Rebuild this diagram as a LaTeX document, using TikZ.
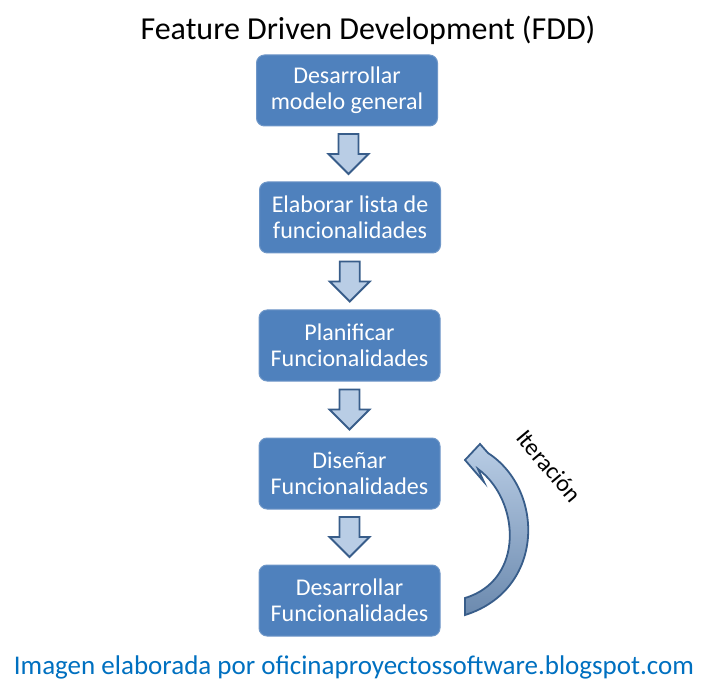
\documentclass[tikz,border=0pt]{standalone}
\usepackage{fontspec}
\setmainfont{Carlito}
\definecolor{boxfill}{HTML}{4F81BD}
\definecolor{boxline}{HTML}{6F97C8}
\definecolor{arrfill}{HTML}{B9CDE5}
\definecolor{arrline}{HTML}{385D8A}
\definecolor{foot}{HTML}{0070C0}
\begin{document}
\begin{tikzpicture}[x=1pt,y=-1pt,
  stepbox/.style={draw=boxline,line width=1pt,fill=boxfill,rounded corners=8pt,minimum width=181pt,minimum height=71pt,text=white,align=center,font=\fontsize{24}{26}\selectfont},
  downarr/.style={draw=arrline,line width=1.8pt,fill=arrfill,line join=miter}]
\useasboundingbox (0,0) rectangle (709,692);
\node at (368,30) {\fontsize{32}{36}\selectfont Feature Driven Development (FDD)};
\node[stepbox] (b1) at (347,90.5) {Desarrollar\\modelo general};
\node[stepbox] (b2) at (350,217.5) {Elaborar lista de\\funcionalidades};
\node[stepbox] (b3) at (349.5,345.5) {Planificar\\Funcionalidades};
\node[stepbox] (b4) at (349.5,473.5) {Diseñar\\Funcionalidades};
\node[stepbox] (b5) at (349.5,600.5) {Desarrollar\\Funcionalidades};
\foreach \a/\b in {b1/b2,b2/b3,b3/b4,b4/b5}{
  \path (\a.south) -- (\b.north) coordinate[pos=0.5] (m);
  \draw[downarr] ([shift={(-10,-20)}]m) -- ([shift={(10,-20)}]m) -- ([shift={(10,0)}]m) -- ([shift={(20,0)}]m) -- ([shift={(0,20)}]m) -- ([shift={(-20,0)}]m) -- ([shift={(-10,0)}]m) -- cycle;
}
\coordinate (tip) at (465,460);
\draw[draw=arrline,line width=1.8pt,top color=arrfill,bottom color=arrline!60!arrfill,line join=miter]
  (tip) -- (480,444) -- (488,453) .. controls (545,490) and (545,590) .. (465,615)
  -- (465,598) .. controls (525,580) and (520,500) .. (478,469) -- (484,482) -- cycle;
\node[rotate=-50] (it) at (549,466) {\fontsize{24}{26}\selectfont Iteración};
\node[text=foot] (ft) at (354,667) {\fontsize{27}{30}\selectfont Imagen elaborada por oficinaproyectossoftware.blogspot.com};
\end{tikzpicture}
\end{document}
